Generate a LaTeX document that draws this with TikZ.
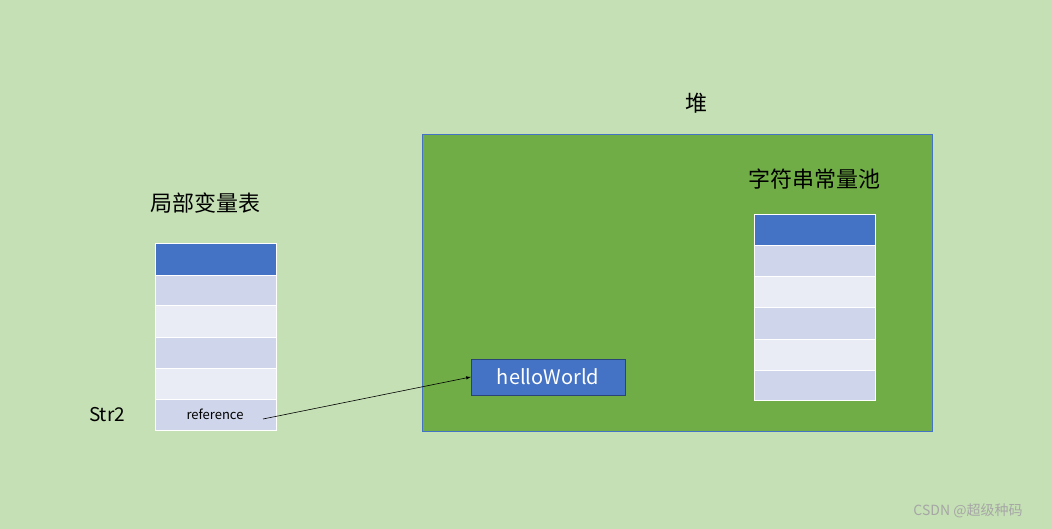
\documentclass[tikz,border=0pt]{standalone}
\usepackage{fontspec}
\setmainfont{Noto Sans CJK SC}
\definecolor{bg}{HTML}{C5E0B4}
\definecolor{heap}{HTML}{70AD47}
\definecolor{hdr}{HTML}{4472C4}
\definecolor{rowa}{HTML}{CFD5EA}
\definecolor{rowb}{HTML}{E9EBF5}
\begin{document}
\begin{tikzpicture}[x=1pt,y=-1pt,
  cell/.style={draw=white,line width=1pt},
  lbl/.style={inner sep=0pt,font=\fontsize{22}{24}\selectfont}]
\fill[bg] (0,0) rectangle (1052,529);
\useasboundingbox (0,0) rectangle (1052,529);
% heap
\draw[fill=heap,draw=hdr,line width=0.8pt] (422,134) rectangle (932,431);
\node[lbl] (heapl) at (696,103) {堆};
\node[lbl] (pooll) at (814,179) {字符串常量池};
\node[lbl] (locl) at (205,203) {局部变量表};
% pool table
\fill[cell,fill=hdr] (754,215) rectangle (875,246);
\fill[cell,fill=rowa] (754,246) rectangle (875,277);
\fill[cell,fill=rowb] (754,277) rectangle (875,308);
\fill[cell,fill=rowa] (754,308) rectangle (875,339);
\fill[cell,fill=rowb] (754,339) rectangle (875,370);
\fill[cell,fill=rowa] (754,370) rectangle (875,400);
\draw[white,line width=1pt] (754,215) rectangle (875,400);
\foreach \y in {246,277,308,339,370} \draw[white,line width=1pt] (754,\y) -- (875,\y);
% local table
\fill[fill=hdr] (155,244) rectangle (276,276);
\fill[fill=rowa] (155,276) rectangle (276,306);
\fill[fill=rowb] (155,306) rectangle (276,337);
\fill[fill=rowa] (155,337) rectangle (276,368);
\fill[fill=rowb] (155,368) rectangle (276,399);
\fill[fill=rowa] (155,399) rectangle (276,430);
\draw[white,line width=1pt] (155,244) rectangle (276,430);
\foreach \y in {276,306,337,368,399} \draw[white,line width=1pt] (155,\y) -- (276,\y);
\node[inner sep=0pt,font=\fontsize{13}{15}\selectfont] (ref) at (215,414) {reference};
\node[inner sep=0pt,font=\fontsize{19}{21}\selectfont] (str) at (107,415) {Str2};
% helloWorld
\node[draw=hdr!60!black,fill=hdr,text=white,minimum width=154pt,minimum height=36pt,inner sep=0pt,
  font=\fontsize{20}{22}\selectfont] (hw) at (548,377) {helloWorld};
\coordinate (s) at (263,419);
\draw[-latex,line width=0.6pt] (s) -- (hw.west);
\node[inner sep=0pt,text=gray!70!white,font=\fontsize{14}{16}\selectfont] (wm) at (968,511) {CSDN @超级种码};
\end{tikzpicture}
\end{document}
